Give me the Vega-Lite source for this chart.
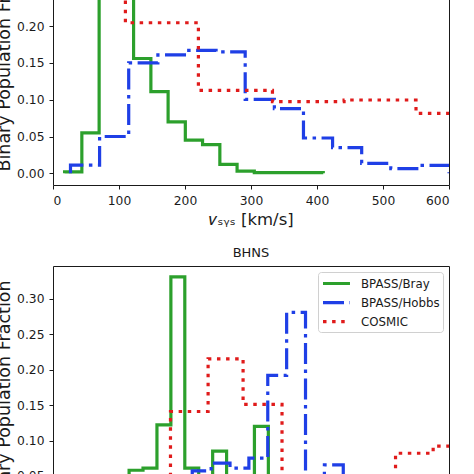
{
  "$schema": "https://vega.github.io/schema/vega-lite/v6.json",
  "background": "white",
  "padding": {"left": -5, "top": -73, "right": 0, "bottom": 0},
  "spacing": 17,
  "config": {
    "view": {"stroke": "#1a1a1a", "strokeWidth": 1},
    "axis": {
      "grid": false,
      "domain": false,
      "ticks": true,
      "tickColor": "#1a1a1a",
      "tickSize": 4,
      "tickWidth": 1,
      "labelFont": "DejaVu Sans",
      "labelFontSize": 12.3,
      "labelColor": "#1a1a1a",
      "labelPadding": 5,
      "titleFontWeight": "normal",
      "titleColor": "#1a1a1a"
    },
    "axisY": {"titleFont": "DejaVu Sans", "titleFontSize": 17.5, "titlePadding": 3},
    "axisX": {"titleFont": "DejaVu Sans", "titleFontSize": 16.5, "titlePadding": 5},
    "title": {"font": "DejaVu Sans", "fontSize": 13, "fontWeight": "normal", "color": "#1a1a1a", "offset": 6},
    "legend": {
      "labelFont": "DejaVu Sans",
      "labelFontSize": 11.8,
      "labelColor": "#1a1a1a",
      "symbolType": "M-1,0H3.15",
      "symbolSize": 169,
      "symbolStrokeWidth": 3.2,
      "labelOffset": 23,
      "rowPadding": 3.1,
      "padding": 3,
      "strokeColor": "#d0d0d0",
      "fillColor": "rgba(255,255,255,0.85)",
      "cornerRadius": 3,
      "offset": 6
    }
  },
  "datasets": {
    "bhbh": [
      {"model": "BPASS/Bray", "i": 0, "v": 17.6, "frac": 0},
      {"model": "BPASS/Bray", "i": 1, "v": 17.6, "frac": 0.002},
      {"model": "BPASS/Bray", "i": 2, "v": 43.7, "frac": 0.055},
      {"model": "BPASS/Bray", "i": 3, "v": 69.9, "frac": 0.28},
      {"model": "BPASS/Bray", "i": 4, "v": 96.0, "frac": 0.3175},
      {"model": "BPASS/Bray", "i": 5, "v": 122.1, "frac": 0.156},
      {"model": "BPASS/Bray", "i": 6, "v": 148.3, "frac": 0.111},
      {"model": "BPASS/Bray", "i": 7, "v": 174.4, "frac": 0.070},
      {"model": "BPASS/Bray", "i": 8, "v": 200.5, "frac": 0.045},
      {"model": "BPASS/Bray", "i": 9, "v": 226.6, "frac": 0.039},
      {"model": "BPASS/Bray", "i": 10, "v": 252.8, "frac": 0.012},
      {"model": "BPASS/Bray", "i": 11, "v": 278.9, "frac": 0.003},
      {"model": "BPASS/Bray", "i": 12, "v": 305.0, "frac": 0.001},
      {"model": "BPASS/Bray", "i": 13, "v": 331.2, "frac": 0.001},
      {"model": "BPASS/Bray", "i": 14, "v": 357.3, "frac": 0.001},
      {"model": "BPASS/Bray", "i": 15, "v": 383.4, "frac": 0.001},
      {"model": "BPASS/Bray", "i": 16, "v": 409.5, "frac": 0.001},
      {"model": "BPASS/Bray", "i": 17, "v": 409.5, "frac": 0},

      {"model": "BPASS/Hobbs", "i": 0, "v": 26.5, "frac": 0},
      {"model": "BPASS/Hobbs", "i": 1, "v": 26.5, "frac": 0.011},
      {"model": "BPASS/Hobbs", "i": 2, "v": 70.6, "frac": 0.050},
      {"model": "BPASS/Hobbs", "i": 3, "v": 114.7, "frac": 0.150},
      {"model": "BPASS/Hobbs", "i": 4, "v": 158.9, "frac": 0.161},
      {"model": "BPASS/Hobbs", "i": 5, "v": 203.0, "frac": 0.167},
      {"model": "BPASS/Hobbs", "i": 6, "v": 247.1, "frac": 0.165},
      {"model": "BPASS/Hobbs", "i": 7, "v": 291.2, "frac": 0.1005},
      {"model": "BPASS/Hobbs", "i": 8, "v": 335.4, "frac": 0.088},
      {"model": "BPASS/Hobbs", "i": 9, "v": 379.5, "frac": 0.048},
      {"model": "BPASS/Hobbs", "i": 10, "v": 423.6, "frac": 0.035},
      {"model": "BPASS/Hobbs", "i": 11, "v": 467.7, "frac": 0.0136},
      {"model": "BPASS/Hobbs", "i": 12, "v": 511.8, "frac": 0.0063},
      {"model": "BPASS/Hobbs", "i": 13, "v": 555.9, "frac": 0.0109},
      {"model": "BPASS/Hobbs", "i": 14, "v": 600, "frac": 0.0109},
      {"model": "BPASS/Hobbs", "i": 15, "v": 600, "frac": 0},

      {"model": "COSMIC", "i": 1, "v": 0, "frac": 0.26},
      {"model": "COSMIC", "i": 2, "v": 109.7, "frac": 0.2046},
      {"model": "COSMIC", "i": 3, "v": 220.3, "frac": 0.1128},
      {"model": "COSMIC", "i": 4, "v": 332.5, "frac": 0.0973},
      {"model": "COSMIC", "i": 5, "v": 441, "frac": 0.0996},
      {"model": "COSMIC", "i": 6, "v": 550, "frac": 0.0815},
      {"model": "COSMIC", "i": 7, "v": 660, "frac": 0.0815},
      {"model": "COSMIC", "i": 8, "v": 660, "frac": 0}
    ],
    "bhns": [
      {"model": "BPASS/Bray", "i": 0, "v": 115.3, "frac": 0},
      {"model": "BPASS/Bray", "i": 1, "v": 115.3, "frac": 0.058},
      {"model": "BPASS/Bray", "i": 2, "v": 136.4, "frac": 0.061},
      {"model": "BPASS/Bray", "i": 3, "v": 157.5, "frac": 0.122},
      {"model": "BPASS/Bray", "i": 4, "v": 178.6, "frac": 0.331},
      {"model": "BPASS/Bray", "i": 5, "v": 199.7, "frac": 0.061},
      {"model": "BPASS/Bray", "i": 6, "v": 220.8, "frac": 0.035},
      {"model": "BPASS/Bray", "i": 7, "v": 241.9, "frac": 0.085},
      {"model": "BPASS/Bray", "i": 8, "v": 263.0, "frac": 0.025},
      {"model": "BPASS/Bray", "i": 9, "v": 284.1, "frac": 0.040},
      {"model": "BPASS/Bray", "i": 10, "v": 305.2, "frac": 0.120},
      {"model": "BPASS/Bray", "i": 11, "v": 326.3, "frac": 0.120},
      {"model": "BPASS/Bray", "i": 12, "v": 326.3, "frac": 0},

      {"model": "BPASS/Hobbs", "i": 0, "v": 153.8, "frac": 0},
      {"model": "BPASS/Hobbs", "i": 1, "v": 153.8, "frac": 0.010},
      {"model": "BPASS/Hobbs", "i": 2, "v": 182.4, "frac": 0.030},
      {"model": "BPASS/Hobbs", "i": 3, "v": 211.0, "frac": 0.057},
      {"model": "BPASS/Hobbs", "i": 4, "v": 239.6, "frac": 0.068},
      {"model": "BPASS/Hobbs", "i": 5, "v": 268.2, "frac": 0.061},
      {"model": "BPASS/Hobbs", "i": 6, "v": 296.8, "frac": 0.075},
      {"model": "BPASS/Hobbs", "i": 7, "v": 325.4, "frac": 0.192},
      {"model": "BPASS/Hobbs", "i": 8, "v": 354.0, "frac": 0.281},
      {"model": "BPASS/Hobbs", "i": 9, "v": 382.6, "frac": 0.020},
      {"model": "BPASS/Hobbs", "i": 10, "v": 411.2, "frac": 0.0655},
      {"model": "BPASS/Hobbs", "i": 11, "v": 439.8, "frac": 0.020},
      {"model": "BPASS/Hobbs", "i": 12, "v": 468.4, "frac": 0.010},
      {"model": "BPASS/Hobbs", "i": 13, "v": 497.0, "frac": 0.010},
      {"model": "BPASS/Hobbs", "i": 14, "v": 497.0, "frac": 0},

      {"model": "COSMIC", "i": 0, "v": 121, "frac": 0},
      {"model": "COSMIC", "i": 1, "v": 121, "frac": 0.035},
      {"model": "COSMIC", "i": 2, "v": 178, "frac": 0.141},
      {"model": "COSMIC", "i": 3, "v": 235, "frac": 0.2154},
      {"model": "COSMIC", "i": 4, "v": 288, "frac": 0.151},
      {"model": "COSMIC", "i": 5, "v": 347, "frac": 0.030},
      {"model": "COSMIC", "i": 6, "v": 404, "frac": 0.020},
      {"model": "COSMIC", "i": 7, "v": 462, "frac": 0.040},
      {"model": "COSMIC", "i": 8, "v": 519, "frac": 0.082},
      {"model": "COSMIC", "i": 9, "v": 576, "frac": 0.092},
      {"model": "COSMIC", "i": 10, "v": 633, "frac": 0.092},
      {"model": "COSMIC", "i": 11, "v": 633, "frac": 0}
    ]
  },
  "vconcat": [
    {
      "width": 396,
      "height": 257,
      "data": {"name": "bhbh"},
      "mark": {"type": "line", "interpolate": "step-after", "clip": true, "strokeWidth": 3.2, "strokeCap": "butt"},
      "encoding": {
        "x": {"field": "v", "type": "quantitative", "scale": {"domain": [0, 600], "nice": false, "zero": false},
              "axis": {"values": [0, 100, 200, 300, 400, 500, 600], "title": "𝑣ₛᵧₛ [km/s]"}},
        "y": {"field": "frac", "type": "quantitative", "scale": {"domain": [-0.0159, 0.3334], "nice": false, "zero": false},
              "axis": {"values": [0, 0.05, 0.1, 0.15, 0.2, 0.25, 0.3], "format": ".2f", "title": "Binary Population Fraction"}},
        "order": {"field": "i", "type": "quantitative"},
        "color": {"field": "model", "type": "nominal",
                  "scale": {"domain": ["BPASS/Bray", "BPASS/Hobbs", "COSMIC"], "range": ["#2ca02c", "#1f3fe6", "#e01b1b"]},
                  "legend": null},
        "strokeDash": {"field": "model", "type": "nominal",
                       "scale": {"domain": ["BPASS/Bray", "BPASS/Hobbs", "COSMIC"], "range": [[1, 0], [21, 5.5, 3.5, 5.5], [3.5, 5.6]]},
                       "legend": null}
      }
    },
    {
      "width": 396,
      "height": 257,
      "title": "BHNS",
      "data": {"name": "bhns"},
      "mark": {"type": "line", "interpolate": "step-after", "clip": true, "strokeWidth": 3.2, "strokeCap": "butt"},
      "encoding": {
        "x": {"field": "v", "type": "quantitative", "scale": {"domain": [0, 600], "nice": false, "zero": false},
              "axis": {"values": [0, 100, 200, 300, 400, 500, 600], "title": "𝑣ₛᵧₛ [km/s]"}},
        "y": {"field": "frac", "type": "quantitative", "scale": {"domain": [-0.0165, 0.3465], "nice": false, "zero": false},
              "axis": {"values": [0, 0.05, 0.1, 0.15, 0.2, 0.25, 0.3], "format": ".2f", "title": "Binary Population Fraction"}},
        "order": {"field": "i", "type": "quantitative"},
        "color": {"field": "model", "type": "nominal",
                  "scale": {"domain": ["BPASS/Bray", "BPASS/Hobbs", "COSMIC"], "range": ["#2ca02c", "#1f3fe6", "#e01b1b"]},
                  "legend": {"title": null, "orient": "top-right"}},
        "strokeDash": {"field": "model", "type": "nominal",
                       "scale": {"domain": ["BPASS/Bray", "BPASS/Hobbs", "COSMIC"], "range": [[1, 0], [21, 5.5, 3.5, 5.5], [3.5, 5.6]]},
                       "legend": {"title": null, "orient": "top-right"}}
      }
    }
  ],
  "resolve": {
    "scale": {"color": "independent", "strokeDash": "independent", "x": "independent", "y": "independent"},
    "legend": {"color": "independent", "strokeDash": "independent"}
  }
}
